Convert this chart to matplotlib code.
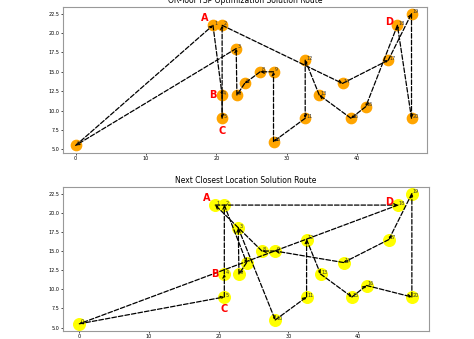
import numpy as np
import matplotlib.pyplot as plt

# node coordinates (same nodes on both panels)
xs = [0, 19.5, 20.8, 22.8, 20.8, 20.8, 22.9, 24.0, 26.2, 28.1, 28.1,
      32.6, 32.6, 34.6, 37.9, 39.1, 41.2, 44.4, 45.7, 47.7, 47.7]
ys = [5.5, 21.0, 21.0, 18.0, 12.0, 9.0, 12.0, 13.5, 15.0, 15.0, 6.0,
      9.0, 16.5, 12.0, 13.5, 9.0, 10.5, 16.5, 21.0, 22.5, 9.0]
labels = [str(i) for i in range(len(xs))]

# visiting order (indices into xs/ys)
route_ortools = [0, 1, 4, 5, 2, 14, 17, 19, 20, 18, 16, 15, 13, 12, 11, 10, 9, 8, 7, 6, 3, 0]
route_nearest = [0, 5, 4, 2, 7, 6, 3, 10, 11, 12, 13, 15, 16, 20, 19, 17, 14, 9, 8, 1, 18, 0]

# highlighted points
marks = {"A": 1, "B": 4, "C": 5, "D": 18}
mark_off = {"A": (-1.2, 0.9), "B": (-1.3, 0.0), "C": (0.0, -1.6), "D": (-1.2, 0.4)}


def draw(ax, route, color, size, title, xlim):
    ax.scatter(xs, ys, s=size, color=color, zorder=2)
    for a, b in zip(route[:-1], route[1:]):
        ax.annotate('', xy=(xs[b], ys[b]), xytext=(xs[a], ys[a]),
                    arrowprops=dict(arrowstyle='->', linestyle='--', color='black',
                                    lw=0.9, shrinkA=0, shrinkB=0, mutation_scale=5))
    for i, lab in enumerate(labels):
        ax.text(xs[i] + 0.15, ys[i] + 0.05, lab, fontsize=3.5, color='#333333')
    for k, i in marks.items():
        dx, dy = mark_off[k]
        ax.text(xs[i] + dx, ys[i] + dy, k, color='red', fontsize=7, fontweight='bold',
                ha='center', va='center')
    ax.set_title(title, fontsize=5.5, pad=3)
    ax.tick_params(labelsize=3.5, length=1.5, width=0.5, pad=0.8)
    ax.set_xlim(*xlim)
    ax.set_ylim(4.56, 23.4)
    ax.set_xticks([0, 10, 20, 30, 40])
    ax.set_yticks([5.0, 7.5, 10.0, 12.5, 15.0, 17.5, 20.0, 22.5])
    for s in ax.spines.values():
        s.set_color('#999999')


fig = plt.figure(figsize=(4.74, 3.39), dpi=100)
ax1 = fig.add_axes([63 / 474, 1 - 152.7 / 339, (427 - 63) / 474, (152.7 - 6.7) / 339])
ax2 = fig.add_axes([62.7 / 474, 1 - 331 / 339, (429.3 - 62.7) / 474, (331 - 186.7) / 339])

draw(ax1, route_ortools, 'orange', 55, 'OR-Tool TSP Optimization Solution Route', (-1.8, 49.9))
draw(ax2, route_nearest, 'yellow', 70, 'Next Closest Location Solution Route', (-2.38, 50.2))

fig.savefig('out.png', dpi=100)
